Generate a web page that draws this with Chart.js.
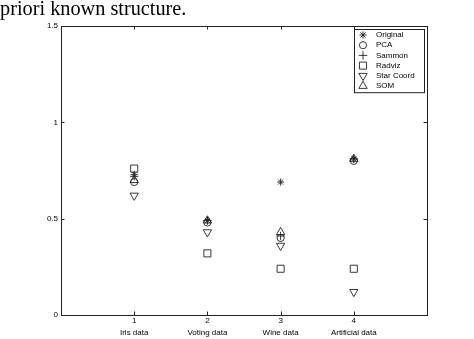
<!DOCTYPE html>
<html>
<head>
<meta charset="utf-8">
<script src="https://cdn.jsdelivr.net/npm/chart.js@4"></script>
<style>
  html, body { margin: 0; padding: 0; background: #fff; }
  #wrap { position: relative; width: 474px; height: 339px; overflow: hidden; }
  #caption {
    position: absolute; left: 0; top: -3px;
    font-family: "Liberation Serif", "Times New Roman", serif;
    font-size: 20.3px; color: #000; white-space: nowrap;
  }
  canvas { position: absolute; left: 0; top: 0; }
</style>
</head>
<body>
<div id="wrap">
  <canvas id="c" width="474" height="339"></canvas>
  <div id="caption">priori known structure.</div>
</div>
<script>
// Data sets compared at each position
const categories = ['Iris data', 'Voting data', 'Wine data', 'Artificial data'];
const positions = [1, 2, 3, 4];
const yTicks = [0, 0.5, 1, 1.5];

const original  = [0.73, 0.49, 0.69, 0.81];
const pca       = [0.69, 0.48, 0.40, 0.80];
const sammon    = [0.72, 0.49, 0.41, 0.81];
const radviz    = [0.76, 0.32, 0.24, 0.24];
const starCoord = [0.62, 0.43, 0.36, 0.12];
const som       = [0.70, 0.49, 0.43, 0.81];

const seriesNames = ['Original', 'PCA', 'Sammon', 'Radviz', 'Star Coord', 'SOM'];
const seriesValues = [original, pca, sammon, radviz, starCoord, som];
const markerStyle = [
  { pointStyle: 'star', radius: 3.6, rotation: 0 },
  { pointStyle: 'circle', radius: 3.6, rotation: 0 },
  { pointStyle: 'cross', radius: 4.2, rotation: 0 },
  { pointStyle: 'rect', radius: 5, rotation: 0 },
  { pointStyle: 'triangle', radius: 4.8, rotation: 180 },
  { pointStyle: 'triangle', radius: 4.8, rotation: 0 }
];

const ink = '#222';
const fontFamily = '"Liberation Sans", Arial, sans-serif';

const datasets = seriesNames.map((name, i) => ({
  label: name,
  data: positions.map((x, j) => ({ x: x, y: seriesValues[i][j] })),
  pointStyle: markerStyle[i].pointStyle,
  pointRadius: markerStyle[i].radius,
  pointRotation: markerStyle[i].rotation,
  pointBorderWidth: 0.9,
  pointBorderColor: ink,
  pointBackgroundColor: 'rgba(0,0,0,0)',
  showLine: false
}));

// Box frame with inward tick marks on all four sides, plus an in-plot legend
const framePlugin = {
  id: 'frame',
  afterDatasetsDraw(chart) {
    const ctx = chart.ctx;
    const a = chart.chartArea;
    const xs = chart.scales.x, ys = chart.scales.y;
    const tl = 3.5;
    ctx.save();
    ctx.strokeStyle = ink;
    ctx.lineWidth = 1;
    ctx.strokeRect(Math.round(a.left) + 0.5, Math.round(a.top) + 0.5,
                   Math.round(a.right - a.left), Math.round(a.bottom - a.top));
    ctx.beginPath();
    positions.forEach(v => {
      const px = Math.round(xs.getPixelForValue(v)) + 0.5;
      ctx.moveTo(px, a.bottom); ctx.lineTo(px, a.bottom - tl);
      ctx.moveTo(px, a.top); ctx.lineTo(px, a.top + tl);
    });
    yTicks.forEach(v => {
      const py = Math.round(ys.getPixelForValue(v)) + 0.5;
      ctx.moveTo(a.left, py); ctx.lineTo(a.left + tl, py);
      ctx.moveTo(a.right, py); ctx.lineTo(a.right - tl, py);
    });
    ctx.stroke();

    // legend box in the upper right corner
    const bw = 70, rowH = 10.2;
    const bh = seriesNames.length * rowH + 2;
    const bx = Math.round(a.right) - 3 - bw;
    const by = Math.round(a.top) + 3;
    ctx.fillStyle = '#fff';
    ctx.fillRect(bx + 0.5, by + 0.5, bw, bh);
    ctx.strokeRect(bx + 0.5, by + 0.5, bw, bh);
    ctx.font = '8px ' + fontFamily;
    ctx.textBaseline = 'middle';
    ctx.textAlign = 'left';
    seriesNames.forEach((name, i) => {
      const cy = by + 6 + i * rowH;
      ctx.fillStyle = 'rgba(0,0,0,0)';
      ctx.strokeStyle = ink;
      ctx.lineWidth = 0.9;
      Chart.helpers.drawPoint(ctx, {
        pointStyle: markerStyle[i].pointStyle,
        radius: markerStyle[i].radius,
        rotation: markerStyle[i].rotation,
        borderWidth: 0.9
      }, bx + 9, cy);
      ctx.fillStyle = '#000';
      ctx.fillText(name, bx + 22, cy);
    });
    ctx.restore();
  }
};

new Chart(document.getElementById('c'), {
  type: 'scatter',
  data: { datasets },
  plugins: [framePlugin],
  options: {
    responsive: false,
    devicePixelRatio: 1,
    animation: false,
    layout: { padding: { left: 0, top: 26, right: 47, bottom: 0 } },
    plugins: { legend: { display: false }, tooltip: { enabled: false } },
    scales: {
      x: {
        type: 'linear',
        min: 0, max: 5,
        grid: { display: false, drawTicks: false },
        border: { display: false },
        afterBuildTicks: s => { s.ticks = positions.map(v => ({ value: v })); },
        afterFit: s => { s.height = 24; },
        ticks: {
          autoSkip: false, maxRotation: 0, padding: 0,
          color: '#000',
          font: { family: fontFamily, size: 8, lineHeight: 1.45 },
          callback: v => [String(v), categories[positions.indexOf(v)]]
        }
      },
      y: {
        min: 0, max: 1.5,
        grid: { display: false, drawTicks: false },
        border: { display: false },
        afterBuildTicks: s => { s.ticks = yTicks.map(v => ({ value: v })); },
        afterFit: s => { s.width = 61; },
        ticks: {
          padding: 3,
          color: '#000',
          font: { family: fontFamily, size: 8 },
          callback: v => String(v)
        }
      }
    }
  }
});
</script>
</body>
</html>
